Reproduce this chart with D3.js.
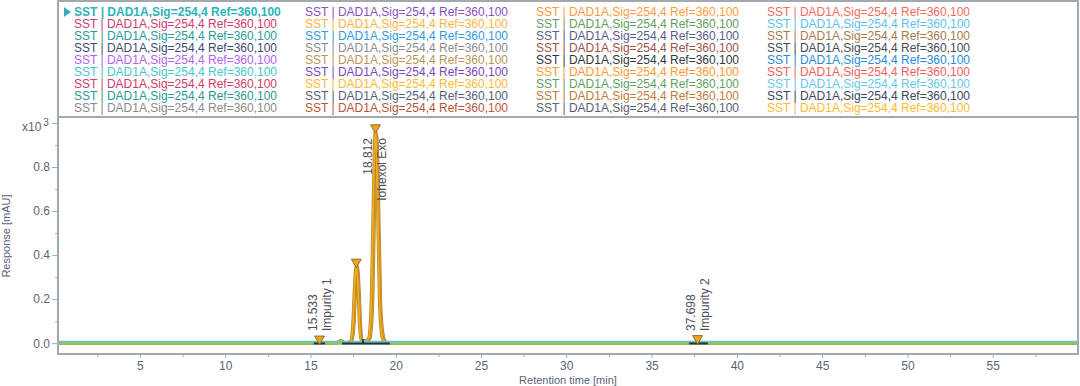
<!DOCTYPE html>
<html>
<head>
<meta charset="utf-8">
<script src="https://cdn.jsdelivr.net/npm/d3@7"></script>
<style>
  body { margin: 0; background: #fff; }
  svg { display: block; font-family: "Liberation Sans", Arial, sans-serif; }
</style>
</head>
<body>
<svg id="chart" width="1080" height="386"></svg>
<script>
// legend: 4 columns x 9 rows, one entry per injection
const legendLabel = "SST | DAD1A,Sig=254,4 Ref=360,100";
const legendColors = [
  ["#2fb3b8", "#d2386f", "#2a9a9c", "#3f4a70", "#b45ff0", "#48c6c8", "#cf3a6c", "#2a9a94", "#8a8a8a"],
  ["#8a4fc2", "#ffb347", "#2e9be0", "#8c8c8c", "#b89558", "#7e46b8", "#ffba30", "#56607a", "#b5553a"],
  ["#ff9a3c", "#5e9e5e", "#5a5a8c", "#a0504a", "#333842", "#ff9933", "#5f9f5f", "#c07a3a", "#5a6070"],
  ["#f26b5b", "#5cc0f0", "#a57a4a", "#444a55", "#2a8ad8", "#f0605a", "#66c8f0", "#3a4560", "#ffba30"]
];

// chromatogram traces [retention time (min), response (x10^3 mAU)]
const injectionA = [
  [0.2, 0], [15.3, 0], [15.53, 0.004], [15.75, 0], [16.5, 0], [16.75, 0.012], [16.95, 0],
  [17.35, 0.01], [17.48, 0.08], [17.58, 0.25], [17.69, 0.355], [17.79, 0.25], [17.88, 0.08], [17.98, 0.012],
  [18.2, 0.01], [18.4, 0.02], [18.55, 0.15], [18.65, 0.5], [18.74, 0.85], [18.81, 0.965],
  [18.88, 0.85], [18.97, 0.5], [19.07, 0.15], [19.2, 0.03], [19.35, 0.005], [19.6, 0],
  [37.4, 0], [37.7, 0.008], [38.0, 0], [60, 0]
];
const injectionB = [
  [0.2, 0], [16.6, 0], [16.85, 0.01], [17.05, 0],
  [17.42, 0.01], [17.55, 0.08], [17.65, 0.25], [17.75, 0.35], [17.85, 0.25], [17.94, 0.08], [18.04, 0.01],
  [18.28, 0.01], [18.48, 0.02], [18.63, 0.15], [18.73, 0.5], [18.81, 0.85], [18.87, 0.95],
  [18.94, 0.85], [19.03, 0.5], [19.13, 0.15], [19.28, 0.03], [19.43, 0.005], [19.7, 0],
  [60, 0]
];
const baselineTeal = [[0.2, 0.007], [60, 0.007]];
const baselineGreen = [[0.2, -0.002], [60, -0.002]];

// integration baselines [start, end] and drop lines
const integrations = [[15.2, 15.85], [16.85, 19.65], [37.2, 38.3]];
const dropLines = [18.08];

// detected peaks
const peakTimes = [15.533, 17.69, 18.812, 37.698];
const peakHeights = [0.006, 0.355, 0.965, 0.008];
const peakNames = ["Impurity 1", "", "Iohexol Exo", "Impurity 2"];
const peakLabelled = [true, false, true, true];

const xMajor = [5, 10, 15, 20, 25, 30, 35, 40, 45, 50, 55];
const xMinor = [2.5, 7.5, 12.5, 17.5, 22.5, 27.5, 32.5, 37.5, 42.5, 47.5, 52.5, 57.5];
const yMajor = [0, 0.2, 0.4, 0.6, 0.8, 1.0];
const yMinor = [0.1, 0.3, 0.5, 0.7, 0.9];

const svg = d3.select("#chart");
const frame = "#a3a7b0";
const tickColor = "#5a6478";

const x = d3.scaleLinear().domain([0.2, 60]).range([58, 1078]);
const y = d3.scaleLinear().domain([-0.049, 1.027]).range([354, 117]);

// legend box
svg.append("rect")
    .attr("x", 58).attr("y", 1).attr("width", 1020).attr("height", 116)
    .attr("fill", "#fff").attr("stroke", frame).attr("stroke-width", 2);

const colX = [74, 305, 536, 767];
legendColors.forEach((col, c) => {
  col.forEach((color, r) => {
    const first = c === 0 && r === 0;
    svg.append("text")
        .attr("x", colX[c])
        .attr("y", 16 + r * 12)
        .attr("fill", color)
        .style("font-size", "12px")
        .style("font-weight", first ? "bold" : null)
        .text(first ? "SST | DAD1A,Sig=254,4  Ref=360,100" : legendLabel);
  });
});
svg.append("path")
    .attr("d", "M64,7 L71,12 L64,17 Z")
    .attr("fill", legendColors[0][0]);

// plot area
const plot = svg.append("g");
plot.append("defs").append("clipPath").attr("id", "clip")
  .append("rect").attr("x", 58).attr("y", 117).attr("width", 1020).attr("height", 237);

const line = d3.line()
    .x(d => x(d[0]))
    .y(d => y(d[1]))
    .curve(d3.curveMonotoneX);

const traces = plot.append("g").attr("clip-path", "url(#clip)");

[injectionB, injectionA].forEach((inj, i) => {
  traces.append("path").datum(inj)
      .attr("d", line).attr("fill", "none")
      .attr("stroke", "#b0852e").attr("stroke-width", 3.2).attr("stroke-linejoin", "round");
  traces.append("path").datum(inj)
      .attr("d", line).attr("fill", "none")
      .attr("stroke", i ? "#f4ac1c" : "#f2a42a").attr("stroke-width", 1.8).attr("stroke-linejoin", "round");
});

traces.append("path").datum(baselineTeal)
    .attr("d", line).attr("fill", "none").attr("stroke", "#5cc8d0").attr("stroke-width", 2);
traces.append("path").datum(baselineGreen)
    .attr("d", line).attr("fill", "none").attr("stroke", "#9cbf5c").attr("stroke-width", 2);

// integration baselines
traces.selectAll(".base")
  .data(integrations)
  .join("line")
    .attr("x1", d => x(d[0])).attr("x2", d => x(d[1]))
    .attr("y1", y(-0.001)).attr("y2", y(-0.001))
    .attr("stroke", "#1f3550").attr("stroke-width", 2);
traces.selectAll(".drop")
  .data(dropLines)
  .join("line")
    .attr("x1", d => x(d)).attr("x2", d => x(d))
    .attr("y1", y(-0.001)).attr("y2", y(0.018))
    .attr("stroke", "#1f3550").attr("stroke-width", 2);

// peak markers
const tri = d3.symbol().type(d3.symbolTriangle).size(42);
traces.selectAll(".mark")
  .data(peakTimes)
  .join("path")
    .attr("d", tri)
    .attr("transform", (d, i) => `translate(${x(d)},${y(peakHeights[i]) - 3}) rotate(180)`)
    .attr("fill", "#e8a520")
    .attr("stroke", "#9a6e1e")
    .attr("stroke-width", 1);

// peak labels
const labels = plot.append("g")
    .attr("fill", "#4a4f5a")
    .style("font-size", "12px");
peakTimes.forEach((t, i) => {
  if (!peakLabelled[i]) return;
  const px = x(t);
  const top = i === 2;
  const py = top ? 138 : 331;
  const anchor = top ? "end" : "start";
  labels.append("text")
      .attr("transform", `translate(${px - 3},${py}) rotate(-90)`)
      .attr("text-anchor", anchor)
      .text(d3.format(".3f")(t));
  labels.append("text")
      .attr("transform", `translate(${px + 11},${py}) rotate(-90)`)
      .attr("text-anchor", anchor)
      .text(peakNames[i]);
});

// axes
plot.append("g")
    .attr("transform", "translate(0,354)")
    .call(d3.axisBottom(x).tickValues(xMajor).tickSize(4).tickPadding(3));
plot.append("g")
    .attr("transform", "translate(0,354)")
    .call(d3.axisBottom(x).tickValues(xMinor).tickSize(3).tickFormat(""));
plot.append("g")
    .attr("transform", "translate(58,0)")
    .call(d3.axisLeft(y).tickValues(yMajor).tickSize(6).tickPadding(2)
      .tickFormat(d => d === 1 ? "" : d3.format(".1f")(d)));
plot.append("g")
    .attr("transform", "translate(58,0)")
    .call(d3.axisLeft(y).tickValues(yMinor).tickSize(3).tickFormat(""));

plot.selectAll(".domain").remove();
plot.selectAll(".tick line").attr("stroke", frame);
plot.selectAll(".tick text")
    .attr("fill", tickColor)
    .style("font-size", "12px")
    .style("font-family", "'Liberation Sans', Arial, sans-serif");

plot.append("rect")
    .attr("x", 58).attr("y", 117).attr("width", 1020).attr("height", 237)
    .attr("fill", "none").attr("stroke", frame).attr("stroke-width", 2);

// axis titles
const sci = svg.append("text")
    .attr("x", 22).attr("y", 131)
    .attr("fill", tickColor)
    .style("font-size", "12px");
sci.append("tspan").text("x10");
sci.append("tspan").attr("dx", 2).attr("dy", -5).style("font-size", "10px").text("3");

svg.append("text")
    .attr("transform", "translate(10,236) rotate(-90)")
    .attr("text-anchor", "middle")
    .attr("fill", tickColor)
    .style("font-size", "11px")
    .text("Response [mAU]");

svg.append("text")
    .attr("x", 568).attr("y", 384)
    .attr("text-anchor", "middle")
    .attr("fill", tickColor)
    .style("font-size", "11px")
    .text("Retention time [min]");
</script>
</body>
</html>
